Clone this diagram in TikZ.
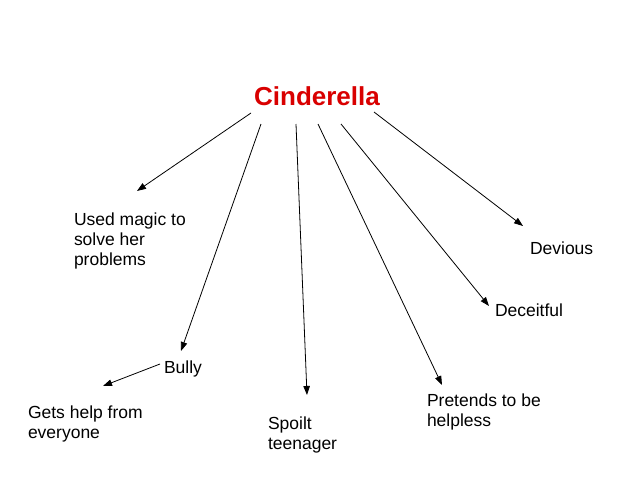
\documentclass[tikz,border=0pt]{standalone}
\usepackage{fontspec}
\setmainfont{Liberation Sans}
\usepackage{tikz}
\usetikzlibrary{arrows.meta}

\begin{document}
\begin{tikzpicture}[
    x=1pt, y=-1pt,
    every node/.style={inner sep=0pt, outer sep=0pt},
    txt/.style={anchor=base west, align=left, font=\fontsize{17.5}{20}\selectfont},
    heading/.style={anchor=base, text=red!85!black, font=\fontsize{26}{30}\selectfont\bfseries},
    flow/.style={-{Triangle[length=9pt, width=6.5pt]}, line width=.8pt, draw=black}
  ]
    \useasboundingbox[fill=white] (0,0) rectangle (638,479);
    % base of the last line
    \node[heading] (cind) at (317,105) {Cinderella};
    \node[txt] (magic) at (74,265) {Used magic to\\solve her\\problems};
    \node[txt] (devious) at (530,254) {Devious};
    \node[txt] (deceit) at (495,316) {Deceitful};
    \node[txt] (bully) at (164,373) {Bully};
    \node[txt] (help) at (28,438) {Gets help from\\everyone};
    \node[txt] (spoilt) at (268,449) {Spoilt\\teenager};
    \node[txt] (pretend) at (427,426) {Pretends to be\\helpless};
    % tails under the title
    \coordinate (t1) at (251,113);
    \coordinate (t2) at (261,124);
    \coordinate (t3) at (296,124);
    \coordinate (t4) at (318,124);
    \coordinate (t5) at (341,124);
    \coordinate (t6) at (374,112);
    \coordinate (t7) at (160,364);
    % tips above the labels
    \coordinate (h1) at (137,191);
    \coordinate (h2) at (181,351);
    \coordinate (h3) at (307,395);
    \coordinate (h4) at (442,385);
    \coordinate (h5) at (489,306);
    \coordinate (h6) at (523,226);
    \coordinate (h7) at (103,386);
    \draw[flow] (t1) -- (h1);
    \draw[flow] (t2) -- (h2);
    \draw[flow] (t3) -- (h3);
    \draw[flow] (t4) -- (h4);
    \draw[flow] (t5) -- (h5);
    \draw[flow] (t6) -- (h6);
    \draw[flow] (t7) -- (h7);
\end{tikzpicture}
\end{document}
